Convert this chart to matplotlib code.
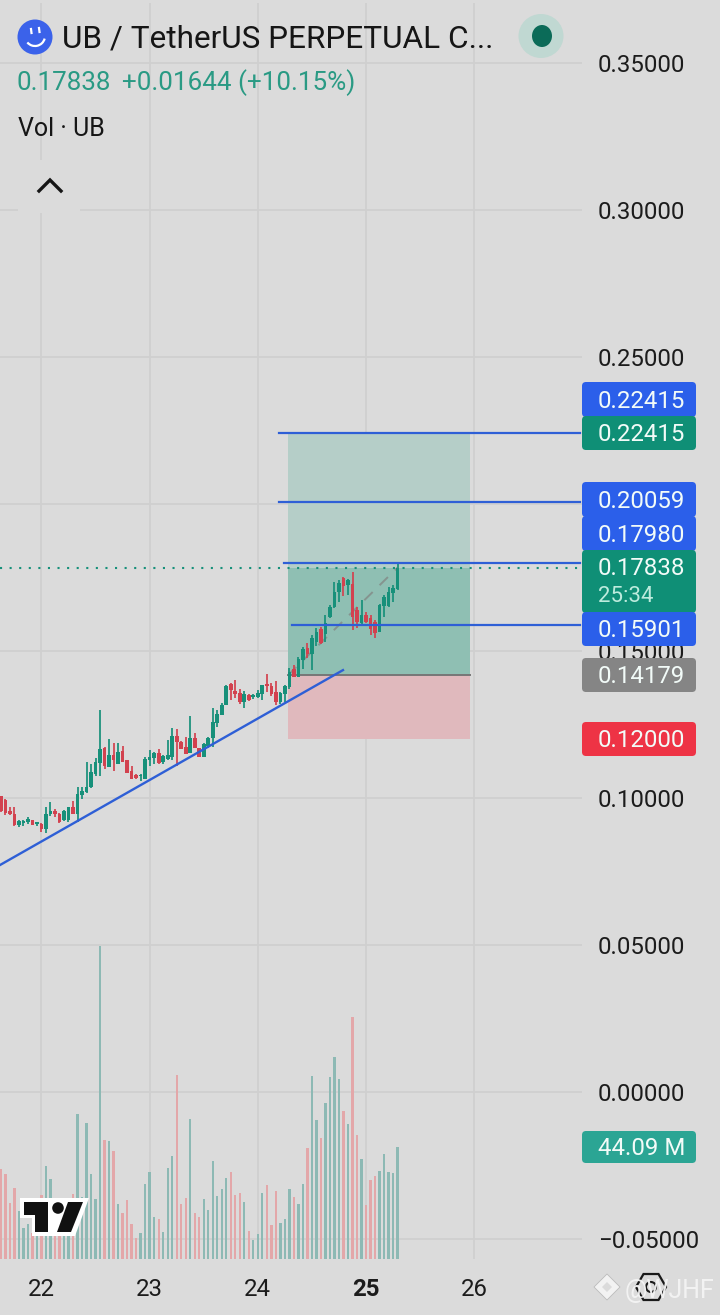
import numpy as np
import matplotlib
matplotlib.use("Agg")
import matplotlib.pyplot as plt
from matplotlib.patches import FancyBboxPatch, Polygon, Circle, Ellipse, Rectangle, Arc, RegularPolygon

plt.rcParams['font.family'] = ['Roboto', 'DejaVu Sans']

opens = [.1006,.0993,.0956,.0947,.0907,.0916,.0919,.0924,.0911,.0912,.0896,.0947,.0956,.0945,.0925,.0925,.0968,.0945,.1010,.1020,
         .1036,.1083,.1120,.1170,.1106,.1145,.1117,.1161,.1129,.1093,.1078,.1074,.1066,.1129,.1136,.1154,.1121,.1131,.1140,.1210,
         .1192,.1174,.1152,.1203,.1171,.1140,.1176,.1203,.1256,.1282,.1315,.1387,.1365,.1356,.1325,.1352,.1343,.1345,.1354,.1388,
         .1381,.1359,.1325,.1354,.1377,.1438,.1413,.1470,.1509,.1490,.1532,.1574,.1558,.1617,.1649,.1702,.1748,.1725,.1728,.1640,
         .1595,.1623,.1612,.1600,.1566,.1653,.1653,.1697,.1710]
highs = [.1006,.0995,.0968,.0968,.0925,.0925,.0934,.0924,.0920,.0916,.0970,.0986,.0961,.0950,.0959,.0968,.0990,.1036,.1036,.1122,
         .1115,.1135,.1299,.1172,.1199,.1186,.1188,.1176,.1129,.1108,.1083,.1081,.1138,.1163,.1157,.1165,.1146,.1197,.1237,.1233,
         .1195,.1206,.1279,.1220,.1171,.1188,.1206,.1305,.1301,.1324,.1384,.1390,.1402,.1370,.1363,.1354,.1354,.1368,.1385,.1422,
         .1390,.1399,.1362,.1385,.1441,.1453,.1481,.1513,.1526,.1555,.1578,.1581,.1623,.1657,.1736,.1742,.1751,.1744,.1767,.1651,
         .1672,.1634,.1623,.1604,.1660,.1691,.1717,.1725,.1804]
lows = [.0953,.0942,.0942,.0904,.0900,.0904,.0911,.0909,.0904,.0884,.0882,.0938,.0934,.0916,.0922,.0918,.0945,.0919,.0997,.1018,
        .1034,.1074,.1074,.1097,.1104,.1093,.1115,.1122,.1086,.1064,.1063,.1059,.1064,.1108,.1117,.1117,.1117,.1129,.1129,.1108,
        .1165,.1149,.1152,.1169,.1138,.1138,.1169,.1174,.1240,.1282,.1315,.1335,.1339,.1320,.1305,.1331,.1336,.1339,.1334,.1359,
        .1347,.1317,.1320,.1328,.1370,.1411,.1411,.1438,.1475,.1436,.1517,.1523,.1532,.1612,.1646,.1668,.1688,.1691,.1572,.1578,
        .1592,.1595,.1555,.1543,.1563,.1617,.1651,.1665,.1708]
closes = [.0956,.0950,.0945,.0907,.0922,.0921,.0927,.0909,.0917,.0896,.0947,.0956,.0944,.0917,.0956,.0968,.0945,.1013,.1025,.1036,
          .1089,.1122,.1165,.1108,.1145,.1129,.1158,.1123,.1086,.1066,.1069,.1078,.1133,.1138,.1154,.1120,.1142,.1146,.1210,.1192,
          .1165,.1149,.1203,.1169,.1138,.1183,.1203,.1258,.1285,.1316,.1381,.1367,.1354,.1325,.1354,.1334,.1352,.1356,.1384,.1381,
          .1354,.1325,.1356,.1381,.1430,.1413,.1472,.1508,.1490,.1543,.1566,.1526,.1595,.1651,.1702,.1731,.1722,.1742,.1617,.1600,
          .1623,.1600,.1574,.1560,.1657,.1685,.1702,.1714,.17838]
volumes = [35.4,33.4,22.1,27.9,19.0,12.0,13.7,10.1,14.0,25.0,36.5,31.4,23.2,21.8,20.5,21.8,25.5,56.9,24.5,53.2,
           33.4,23.5,122.8,46.7,46.3,42.5,21.6,17.9,23.2,13.7,8.4,10.1,29.4,34.1,16.6,15.6,10.5,35.7,40.4,72.2,
           21.6,23.8,54.9,18.2,16.6,23.4,19.2,38.5,24.7,27.3,31.9,34.0,25.1,25.8,22.5,11.0,7.5,9.8,26.0,29.0,
           13.3,26.7,14.3,15.7,27.5,24.5,21.6,29.4,43.4,71.8,54.5,47.3,61.3,71.3,79.1,70.5,58.1,53.0,94.8,48.7,
           39.2,21.2,31.0,32.7,34.5,41.3,34.1,33.6,44.09]
hours_from_day25 = np.arange(-81, 8)
day_ticks = [22, 23, 24, 25, 26]
price_ticks = [-0.05, 0.0, 0.05, 0.10, 0.15, 0.20, 0.25, 0.30, 0.35]
hidden_price_labels = [0.20]  # sits behind the 0.20059 / 0.17980 badges in the reference
entry, target, stop, last_price = 0.14179, 0.22415, 0.12000, 0.17838
level_prices = [0.22415, 0.20059, 0.17980, 0.15901]
level_starts = [24.196, 24.196, 24.242, 24.316]
trend_days = [21.617, 24.787]
trend_prices = [0.0772, 0.1435]
position_days = [24.279, 25.961]

BG = '#DBDBDB'; GRID = '#CFCFCF'
UP = '#17907A'; DOWN = '#D2424F'; BLUE = '#2E5FD6'
W, H = 720, 1315

fig = plt.figure(figsize=(W/100, H/100), dpi=100, facecolor=BG)
ax = fig.add_axes([0, (H-1259)/H, 582/W, 1256/H], facecolor=BG, zorder=1)
ax.set_xlim(21.617, 26.996)
ax.set_ylim(-0.0568, 0.3704)
for s in ax.spines.values():
    s.set_visible(False)
ax.yaxis.tick_right()
ax.set_yticks(price_ticks)
ax.set_yticklabels(['' if p in hidden_price_labels else ('\u2212' if p < 0 else '') + f'{abs(p):.5f}' for p in price_ticks],
                   fontsize=17.3, color='#1c1c1c')
ax.set_xticks(day_ticks)
ax.set_xticklabels([str(d) for d in day_ticks], fontsize=17.3, color='#1c1c1c')
ax.get_xticklabels()[3].set_fontweight('bold')
ax.tick_params(axis='y', length=0, pad=11.5)
ax.tick_params(axis='x', length=0, pad=13.5)
ax.grid(True, color=GRID, lw=1.3)
ax.set_axisbelow(True)

t = 25 + hours_from_day25 / 24
o, h, l, c = map(np.array, (opens, highs, lows, closes))
colors = np.where(c >= o, UP, DOWN)

# position tool
ax.fill_between(position_days, entry, target, color='#B5CEC8', lw=0, zorder=1.2)
ax.fill_between(position_days, entry, last_price, color='#8FBFB3', lw=0, zorder=1.3)
ax.fill_between(position_days, stop, entry, color='#E0B9BD', lw=0, zorder=1.2)
ax.plot(position_days, [entry, entry], color='#777777', lw=1.4, zorder=1.5)
ax.plot([position_days[0], t[-1]], [entry, last_price], color='#85948F', lw=1.4, ls=(0, (6, 5)), zorder=1.6)

# candles
ax.vlines(t, l, h, colors=colors, lw=1.25, zorder=3)
ax.bar(t, np.maximum(np.abs(c - o), 0.0005), bottom=np.minimum(o, c), width=3.7/108.2, color=colors, lw=0, zorder=3)

# lines
ax.plot(trend_days, trend_prices, color=BLUE, lw=1.7, zorder=4)
for p, s in zip(level_prices, level_starts):
    ax.plot([s, 26.98], [p, p], color=BLUE, lw=1.6, zorder=4)
ax.plot([21.617, 26.98], [last_price, last_price], color=UP, lw=1.5, ls=(0, (1, 3.6)), zorder=4)

# volume
axv = fig.add_axes(ax.get_position(), zorder=2, facecolor='none')
axv.set_xlim(ax.get_xlim())
axv.set_ylim(0, 492.9)
axv.axis('off')
vcolors = np.where(c >= o, '#8DB9B4', '#E3A7A9')
axv.bar(t, volumes, width=2.3/108.2, color=vcolors, lw=0)

# overlay in page pixels for the interface furniture
ov = fig.add_axes([0, 0, 1, 1], zorder=5, facecolor='none')
ov.set_xlim(0, W); ov.set_ylim(H, 0); ov.axis('off')

def badge(y0, y1, col, txt, sub=None, tc='#F2FBF8', x0=582, x1=696):
    ov.add_patch(FancyBboxPatch((x0+3, y0+3), x1-x0-6, y1-y0-6, boxstyle='round,pad=3,rounding_size=4', fc=col, ec='none'))
    if sub is None:
        ov.text(598, (y0+y1)/2+1.5, txt, color=tc, fontsize=17.3, va='center', ha='left')
    else:
        ov.text(598, y0+18.5, txt, color=tc, fontsize=17.3, va='center', ha='left')
        ov.text(598, y0+46, sub, color='#BDEBDD', fontsize=16, va='center', ha='left')

GB = '#2B5FEA'; GG = '#0F8F76'
badge(482, 517, GB, '0.20059')
badge(516, 551, GB, '0.17980')
badge(382, 417, GB, '0.22415')
badge(416, 450, GG, '0.22415')
badge(550, 613, GG, '0.17838', '25:34')
badge(612, 646, GB, '0.15901')
badge(658, 692, '#858585', '0.14179')
badge(722, 756, '#EE3345', '0.12000')
badge(1131, 1163, '#2BA594', '44.09 M')

# header
ov.add_patch(Rectangle((18, 160), 62, 53, fc=BG, ec='none'))
ov.add_patch(Circle((35, 37), 17.5, fc='#3B62EA', ec='none'))
ov.add_patch(Arc((35, 36), 20, 20, theta1=15, theta2=140, color='white', lw=1.6))
ov.plot([31, 31.5], [29, 33], color='white', lw=1.6)
ov.plot([39, 39.5], [28, 32], color='white', lw=1.6)
ov.text(62, 38.5, 'UB / TetherUS PERPETUAL C...', fontsize=22.7, color='#161616', va='center', ha='left')
ov.add_patch(Ellipse((541, 36), 45, 44, fc='#C0D8D2', ec='none'))
ov.add_patch(Ellipse((542, 36), 20, 22, fc='#0B6B58', ec='none'))
ov.text(16, 82.5, '0.17838', fontsize=18.7, color='#2A9A84', va='center', ha='left')
ov.text(122, 82.5, '+0.01644 (+10.15%)', fontsize=18.7, color='#2A9A84', va='center', ha='left')
ov.text(18, 128.5, 'Vol \u00b7 UB', fontsize=18, color='#161616', va='center', ha='left')
ov.plot([39, 50, 61], [191, 180, 191], color='#161616', lw=2.4, solid_joinstyle='miter')

# TradingView logo
ov.add_patch(Polygon([(20, 1198), (89, 1198), (75, 1236), (32, 1236), (32, 1218), (20, 1218)], fc='white', ec='none'))
ov.add_patch(Polygon([(24, 1202), (48, 1202), (48, 1232), (35, 1232), (35, 1215), (24, 1215)], fc='#111111', ec='none'))
ov.add_patch(Circle((58, 1208), 5.8, fc='#111111', ec='none'))
ov.add_patch(Polygon([(68, 1202), (83, 1202), (71, 1232), (57, 1232)], fc='#111111', ec='none'))

# watermark
ov.text(625, 1291, '@WJHF', fontsize=18, color='#F4F4F4', va='center', ha='left', alpha=0.95)
ov.add_patch(RegularPolygon((607, 1287), 4, radius=13, fc='#F2F2F2', ec='#BBBBBB', lw=0.6))
ov.add_patch(RegularPolygon((607, 1287), 4, radius=5, fc=BG, ec='none'))
ov.add_patch(RegularPolygon((651, 1287), 6, radius=15, orientation=np.pi/2, fc='none', ec='#1a1a1a', lw=1.6))
ov.add_patch(Circle((651, 1287), 5, fc='none', ec='#1a1a1a', lw=1.5))

fig.savefig('out.png', dpi=100, facecolor=BG)
